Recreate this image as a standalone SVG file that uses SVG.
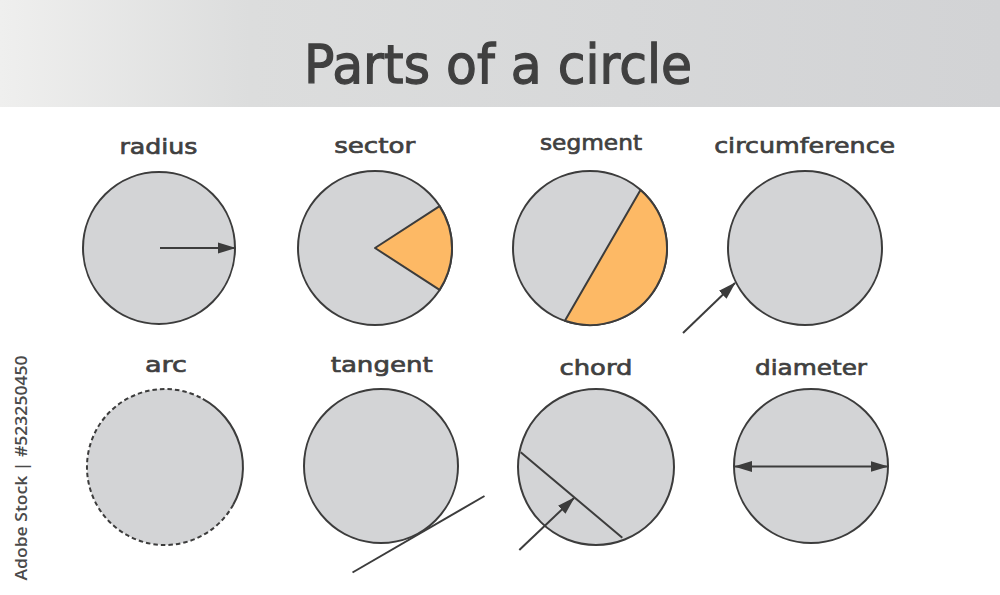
<svg xmlns="http://www.w3.org/2000/svg" width="1000" height="595" viewBox="0 0 1000 595">
<defs>
<linearGradient id="hdr" x1="0" y1="0" x2="1" y2="0">
<stop offset="0" stop-color="#efefee"/>
<stop offset="0.25" stop-color="#dcdddd"/>
<stop offset="1" stop-color="#d2d3d5"/>
</linearGradient>
<marker id="ah" markerUnits="userSpaceOnUse" markerWidth="18" markerHeight="12" viewBox="0 0 18 12" refX="17" refY="6" orient="auto-start-reverse">
<path d="M0,0.5 L18,6 L0,11.5 Z" fill="#3c3c3c"/>
</marker>
<style>
.c{fill:#d3d4d6;stroke:#3c3c3c;stroke-width:2}
.o{fill:#fdb965;stroke:#3c3c3c;stroke-width:2;stroke-linejoin:round}
.ln{fill:none;stroke:#3c3c3c;stroke-width:2}
.lbl{font-family:"DejaVu Sans","Liberation Sans",sans-serif;font-size:22px;fill:#404040;stroke:#404040;stroke-width:0.7;text-anchor:middle}
</style>
</defs>
<rect width="1000" height="595" fill="#ffffff"/>
<rect width="1000" height="107" fill="url(#hdr)"/>
<text x="498" y="83" font-family="DejaVu Sans, Liberation Sans, sans-serif" font-size="54" fill="#404040" stroke="#404040" stroke-width="1.3" text-anchor="middle" textLength="388" lengthAdjust="spacingAndGlyphs">Parts of a circle</text>
<text transform="translate(27,468) rotate(-90)" font-family="Open Sans, Liberation Sans, sans-serif" font-weight="600" font-size="16" fill="#4a4a4a" text-anchor="middle" textLength="225" lengthAdjust="spacingAndGlyphs">Adobe Stock | #523250450</text>

<g id="radius">
<text class="lbl" x="158.5" y="154" textLength="78" lengthAdjust="spacingAndGlyphs">radius</text>
<circle class="c" cx="159" cy="248" r="76"/>
</g>
<g id="sector">
<text class="lbl" x="374.7" y="153" textLength="81" lengthAdjust="spacingAndGlyphs">sector</text>
<circle class="c" cx="375" cy="248" r="77"/>
<path class="o" d="M375,248 L439.6,206.1 A77,77 0 0 1 439.6,289.9 Z"/>
</g>
<g id="segment">
<text class="lbl" x="591" y="150" textLength="102" lengthAdjust="spacingAndGlyphs">segment</text>
<circle class="c" cx="590" cy="248" r="77"/>
<path class="o" d="M640.5,189.9 A77,77 0 0 1 564.9,320.8 Z"/>
</g>
<g id="circumference">
<text class="lbl" x="804.7" y="153" textLength="181" lengthAdjust="spacingAndGlyphs">circumference</text>
<circle class="c" cx="805" cy="248" r="77"/>
</g>
<g id="arc">
<text class="lbl" x="166" y="372" textLength="42" lengthAdjust="spacingAndGlyphs">arc</text>
<circle cx="165" cy="467" r="78" fill="#d3d4d6"/>
<path class="ln" d="M202.8,398.8 A78,78 0 0 1 233.2,504.8"/>
<path class="ln" stroke-dasharray="4.5 3" d="M233.2,504.8 A78,78 0 1 1 202.8,398.8"/>
</g>
<g id="tangent">
<text class="lbl" x="381.7" y="372" textLength="102" lengthAdjust="spacingAndGlyphs">tangent</text>
<circle class="c" cx="381" cy="466" r="77"/>
</g>
<g id="chord">
<text class="lbl" x="596" y="375" textLength="73" lengthAdjust="spacingAndGlyphs">chord</text>
<circle class="c" cx="596" cy="467" r="78"/>
</g>
<g id="diameter">
<text class="lbl" x="811" y="375" textLength="112" lengthAdjust="spacingAndGlyphs">diameter</text>
<circle class="c" cx="811" cy="466" r="77"/>
</g>

<g id="connectors">
<line class="ln" x1="160" y1="248" x2="235" y2="248" marker-end="url(#ah)"/>
<line class="ln" x1="683" y1="333" x2="735" y2="283" marker-end="url(#ah)"/>
<line class="ln" x1="352.5" y1="572.5" x2="484.5" y2="496"/>
<line class="ln" x1="520.7" y1="452.3" x2="622.3" y2="537.7"/>
<line class="ln" x1="519.3" y1="550" x2="574" y2="498" marker-end="url(#ah)"/>
<line class="ln" x1="735" y1="466.5" x2="887.5" y2="466.5" marker-start="url(#ah)" marker-end="url(#ah)"/>
</g>
</svg>
